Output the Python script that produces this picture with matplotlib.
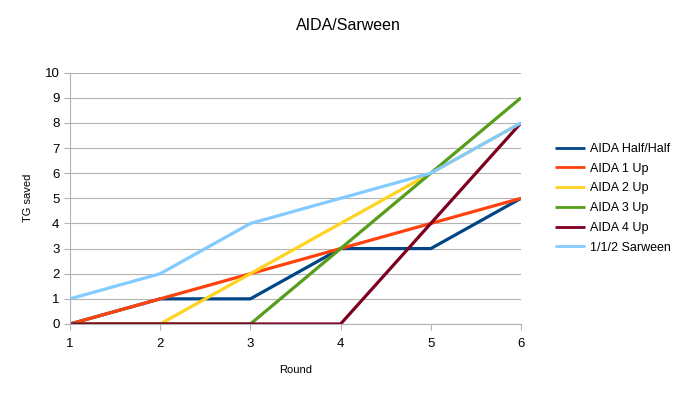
import matplotlib.pyplot as plt

rounds = [1, 2, 3, 4, 5, 6]
half_half = [0, 1, 1, 3, 3, 5]
one_up = [0, 1, 2, 3, 4, 5]
two_up = [0, 0, 2, 4, 6, 8]
three_up = [0, 0, 0, 3, 6, 9]
four_up = [0, 0, 0, 0, 4, 8]
sarween = [1, 2, 4, 5, 6, 8]

names = ['AIDA Half/Half', 'AIDA 1 Up', 'AIDA 2 Up', 'AIDA 3 Up', 'AIDA 4 Up', '1/1/2 Sarween']
colors = ['#004586', '#ff420e', '#ffd320', '#579d1c', '#7e0021', '#83caff']
series = [half_half, one_up, two_up, three_up, four_up, sarween]

plt.rcParams['font.family'] = ['Liberation Sans', 'DejaVu Sans']

fig = plt.figure(figsize=(6.97, 3.99), dpi=100)
ax = fig.add_axes([0.1004, 0.188, 0.6471, 0.630])

for vals, name, col in zip(series, names, colors):
    ax.plot(rounds, vals, color=col, lw=2.3, label=name, solid_capstyle='butt')

ax.set_xlim(1, 6)
ax.set_ylim(0, 10)
ax.set_xticks(rounds)
ax.set_yticks(range(0, 11))
ax.yaxis.grid(True, color='#b3b3b3', lw=0.8)
ax.set_axisbelow(True)
for s in ['top', 'right']:
    ax.spines[s].set_visible(False)
for s in ['left', 'bottom']:
    ax.spines[s].set_color('#b3b3b3')
ax.tick_params(colors='#b3b3b3', labelcolor='black', labelsize=9.5, length=4)
ax.tick_params(axis='x', pad=6)

ax.set_xlabel('Round', fontsize=8)
ax.xaxis.set_label_coords(0.5, -0.165)
ax.set_ylabel('TG saved', fontsize=8)
ax.yaxis.set_label_coords(-0.083, 0.5)
fig.suptitle('AIDA/Sarween', fontsize=11.5, y=0.955)

leg = ax.legend(loc='center left', bbox_to_anchor=(1.05, 0.5), frameon=False,
                fontsize=9, handlelength=2.4, labelspacing=0.62, handletextpad=0.4)
for h in leg.get_lines():
    h.set_linewidth(2.0)

fig.savefig('out.png', dpi=100)
